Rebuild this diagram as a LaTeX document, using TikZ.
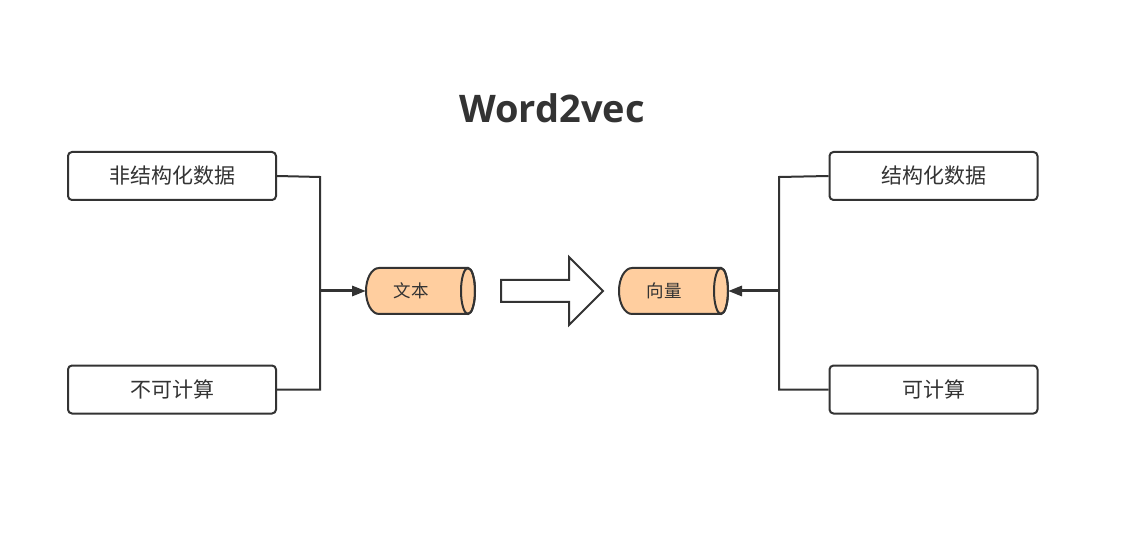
\documentclass[tikz,border=0pt]{standalone}
\usepackage{fontspec}
\setmainfont{Open Sans}
\newfontfamily\cjk{Noto Sans CJK SC}
\newfontfamily\titlefont{Open Sans}
\usetikzlibrary{arrows.meta}
\definecolor{ink}{HTML}{333333}
\definecolor{cylfill}{HTML}{FFCE9F}
\begin{document}
\begin{tikzpicture}[x=1pt,y=-1pt,
  box/.style={draw=ink,line width=2pt,rounded corners=4pt,fill=white,minimum width=208pt,minimum height=48pt,inner sep=0pt,text height=16pt,text depth=0pt,text=ink,font=\cjk\fontsize{21}{25}\selectfont},
  link/.style={draw=ink,line width=2pt},
  feed/.style={draw=ink,line width=3pt,-{Triangle[length=14pt,width=10pt]}},
  cyltext/.style={text=ink,font=\cjk\fontsize{17.5}{20}\selectfont,inner sep=0pt,text height=13pt,text depth=0pt},
  cylline/.style={draw=ink,line width=2pt,fill=cylfill}
]
\useasboundingbox (0,0) rectangle (1135,537);
\node[text=ink,font=\titlefont\bfseries\fontsize{38}{44}\selectfont] (title) at (552,108) {Word2vec};

\node[box] (a) at (172,176) {非结构化数据};
\node[box] (b) at (172,389.5) {不可计算};
\node[box] (c) at (933.5,176) {结构化数据};
\node[box] (d) at (933.5,389.5) {可计算};

% cylinder 1
\path[cylline] (379,268) -- (468,268) arc[start angle=-90,end angle=90,x radius=7,y radius=23] -- (379,314) arc[start angle=90,end angle=270,x radius=13,y radius=23] -- cycle;
\draw[draw=ink,line width=2pt] (468,291) ellipse[x radius=7,y radius=23];
\coordinate (t) at (366,291);
\node[cyltext] (tt) at (411,291) {文本};

% cylinder 2
\path[cylline] (632,268) -- (721,268) arc[start angle=-90,end angle=90,x radius=7,y radius=23] -- (632,314) arc[start angle=90,end angle=270,x radius=13,y radius=23] -- cycle;
\draw[draw=ink,line width=2pt] (721,291) ellipse[x radius=7,y radius=23];
\coordinate (v) at (728,291);
\node[cyltext] (vt) at (664,291) {向量};

% big arrow
\draw[draw=ink,line width=2pt,fill=white] (501,280) -- (569,280) -- (569,257) -- (603,291) -- (569,325) -- (569,302) -- (501,302) -- cycle;

% left bracket
\coordinate (lj) at (320,291);
\draw[link] (a.east) -- (320,177) -- (320,389.5) -- (b.east);
\draw[feed] (lj) -- (t);

% right bracket
\coordinate (rj) at (779,291);
\draw[link] (c.west) -- (779,177) -- (779,389.5) -- (d.west);
\draw[feed] (rj) -- (v);
\end{tikzpicture}
\end{document}
